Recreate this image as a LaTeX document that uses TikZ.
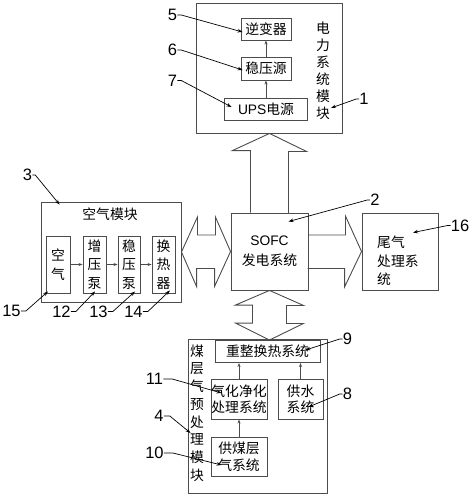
\documentclass[tikz,border=0pt]{standalone}
\usepackage{fontspec}
\setmainfont{Liberation Sans}
\newfontfamily\cjk{Noto Sans CJK SC}
\usetikzlibrary{arrows.meta,calc}

\begin{document}
\begin{tikzpicture}[x=1pt,y=-1pt,
  every node/.style={inner sep=0pt, font=\fontsize{13.8}{18.5}\selectfont\cjk},
  box/.style={draw=black!70, line width=0.9pt, align=center},
  num/.style={font=\fontsize{16.5}{18}\selectfont\rmfamily},
  arr/.style={draw=black!70, line width=0.7pt, -{Stealth[length=4pt,width=3pt]}},
  lead/.style={line width=0.7pt, -{Stealth[length=5pt,width=3.5pt]}},
  big/.style={draw=black!70, line width=0.9pt, line join=miter}]
\useasboundingbox (0,0) rectangle (474,496);
% power module
\node[box, minimum width=146, minimum height=130] (power) at (269.5,68) {};
\node[box, minimum width=50, minimum height=22] (inv) at (266,29) {逆变器};
\node[box, minimum width=50, minimum height=23] (reg) at (266,68.5) {稳压源};
\node[box, minimum width=83, minimum height=22] (ups) at (266,109) {\rmfamily UPS\cjk 电源};
\node[align=center, font=\fontsize{13.8}{17}\selectfont\cjk] (powerlbl) at (323,71) {电\\力\\系\\统\\模\\块};
\draw[arr] (reg) -- (inv);
\draw[arr] (ups) -- (reg);
% SOFC and tail gas
\node[box, minimum width=77, minimum height=77, font=\fontsize{13.8}{20}\selectfont\cjk] (sofc) at (269.5,251.5) {\rmfamily SOFC\\发电系统};
\node[box, minimum width=76, minimum height=77] (tail) at (400,251.5) {};
\node[anchor=north west, align=left] (taillbl) at (377,236) {尾气\\处理系\\统};
% air module
\node[box, minimum width=140, minimum height=100] (air) at (111,252) {};
\node (airlbl) at (110,214) {空气模块};
\node[box, minimum width=24, minimum height=57] (src) at (58,264.5) {空\\气};
\node[box, minimum width=23, minimum height=57] (boost) at (94.5,264.5) {增\\压\\泵};
\node[box, minimum width=22, minimum height=57] (stab) at (129,264.5) {稳\\压\\泵};
\node[box, minimum width=23, minimum height=57] (hx) at (163.5,264.5) {换\\热\\器};
\draw[arr] (src) -- (boost);
\draw[arr] (boost) -- (stab);
\draw[arr] (stab) -- (hx);
% coal bed gas module
\node[box, minimum width=139, minimum height=154] (coal) at (257.5,416) {};
\node[box, minimum width=105, minimum height=22] (reform) at (267.5,351.5) {重整换热系统};
\node[box, minimum width=56, minimum height=40, font=\fontsize{13.8}{16.5}\selectfont\cjk] (gas) at (239,399) {气化净化\\处理系统};
\node[box, minimum width=45, minimum height=40, font=\fontsize{13.8}{16.5}\selectfont\cjk] (water) at (300.5,399) {供水\\系统};
\node[box, minimum width=56, minimum height=39, font=\fontsize{13.8}{16.5}\selectfont\cjk] (supply) at (239,456.5) {供煤层\\气系统};
\node[align=center, font=\fontsize{13.8}{17.7}\selectfont\cjk] (coallbl) at (197,413) {煤\\层\\气\\预\\处\\理\\模\\块};
\draw[arr] (supply) -- (gas);
\draw[arr] (gas.north) -- (gas.north |- reform.south);
\draw[arr] (water.north) -- (water.north |- reform.south);
% hollow arrows
\draw[big] (sofc.north) ++(-19,0) -- ++(0,-62) -- ++(-18,0) -- (power.south) -- ++(37,18) -- ++(-18,0) -- ++(0,62);
\draw[big] (air.east) -- ++(16,-35) -- ++(0,18) -- ++(18,0) -- ++(0,-18) -- (sofc.west) -- ++(-16,35) -- ++(0,-18) -- ++(-18,0) -- ++(0,18) -- cycle;
\draw[big] ($(sofc.east)+(0,-16.5)$) -- ++(37,0) -- ++(0,-19) -- (tail.west) -- ++(-17,35.5) -- ++(0,-18.5) -- ++(-37,0);
\draw[big] (sofc.south) -- ++(34,15) -- ++(-17,0) -- ++(0,18) -- ++(17,0) -- (sofc.south |- reform.north) -- ++(-34,-17) -- ++(17,0) -- ++(0,-18) -- ++(-17,0) -- cycle;
% numbers
\node[num] (n5) at (172.5,15) {5};
\node[num] (n6) at (172.5,50) {6};
\node[num] (n7) at (172.5,80.5) {7};
\node[num] (n1) at (364,99) {1};
\node[num] (n2) at (375,200) {2};
\node[num] (n3) at (27.5,175) {3};
\node[num] (n15) at (11.5,311) {15};
\node[num] (n12) at (61.5,311.5) {12};
\node[num] (n13) at (98.5,311.5) {13};
\node[num] (n14) at (133.5,311.5) {14};
\node[num] (n16) at (460,225.5) {16};
\node[num] (n9) at (347.5,339) {9};
\node[num] (n8) at (347.5,394) {8};
\node[num] (n11) at (154.5,379) {11};
\node[num] (n4) at (159,416) {4};
\node[num] (n10) at (154.5,453) {10};
\draw[lead] (n5.east) -- ++(4,0) -- ($(inv.west)+(2,3)$);
\draw[lead] (n6.east) -- ++(4,0) -- ($(reg.west)+(2,1.5)$);
\draw[lead] (n7.east) -- ++(4,0) -- ($(ups.west)+(7.5,-2)$);
\draw[lead] (n1.west) -- ++(-3,0) -- ($(power.east)+(-12,40)$);
\draw[lead] (n2.west) -- ++(-3,0) -- ($(sofc.north)+(19,9)$);
\draw[lead] (n3.east) -- ++(3,0) -- ($(air.north west)+(19,3)$);
\draw[lead] (n15.east) -- ++(5,0) -- ($(src.south)+(-10,-2)$);
\draw[lead] (n12.east) -- ++(5,0) -- ($(boost.south)+(0.5,-2)$);
\draw[lead] (n13.east) -- ++(5,0) -- ($(stab.south)+(6,-2)$);
\draw[lead] (n14.east) -- ++(5,0) -- ($(hx.south)+(6.5,-3)$);
\draw[lead] (n16.west) -- ++(-3,0) -- ($(tail.north)+(13,20)$);
\draw[lead] (n9.west) -- ++(-3,0) -- ($(reform.east)+(-15,-1.5)$);
\draw[lead] (n8.west) -- ++(-3,0) -- ($(water.east)+(-15,8)$);
\draw[lead] (n11.east) -- ++(9,0) -- ($(gas.west)+(11,-6)$);
\draw[lead] (n4.east) -- ++(6,0) -- ($(coal.west)+(3,17)$);
\draw[lead] (n10.east) -- ++(9,0) -- ($(supply.west)+(11,8.5)$);
\end{tikzpicture}
\end{document}
